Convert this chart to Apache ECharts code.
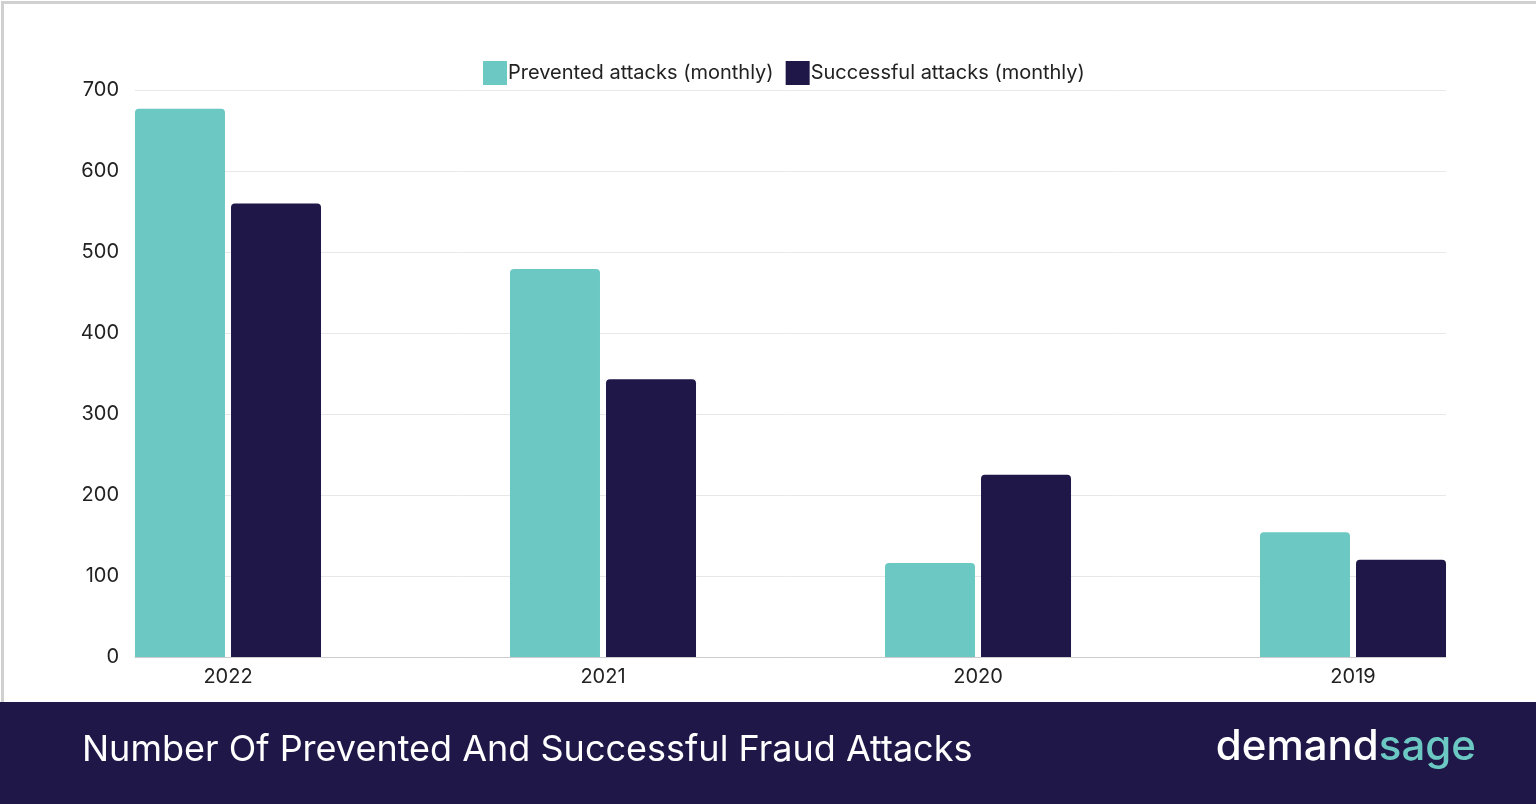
<!DOCTYPE html>
<html>
<head>
<meta charset="utf-8">
<script src="https://cdn.jsdelivr.net/npm/echarts@6/dist/echarts.min.js"></script>
<style>
html,body{margin:0;padding:0;background:#fff;}
#chart{width:1536px;height:804px;}
</style>
</head>
<body>
<div id="chart"></div>
<script>
const years = ['2022', '2021', '2020', '2019'];
const prevented = [677, 479, 116, 154];
const successful = [560, 343, 225, 120];
const yTicks = [0, 100, 200, 300, 400, 500, 600, 700];

const chart = echarts.init(document.getElementById('chart'));
const font = 'Inter, "Noto Sans", sans-serif';
chart.setOption({
    animation: false,
    backgroundColor: '#fff',
    textStyle: { fontFamily: font },
    legend: {
        top: 56, left: 478, itemWidth: 24, itemHeight: 24, itemGap: 12,
        icon: 'rect',
        textStyle: { fontSize: 20, color: '#222', fontFamily: font, padding: [0, 0, 0, -4] },
        data: ['Prevented attacks (monthly)', 'Successful attacks (monthly)']
    },
    grid: [
        { left: 135, width: 1311, top: 90, height: 567 },
        { left: 228, width: 1125, top: 90, height: 567 }
    ],
    xAxis: [
        { gridIndex: 0, type: 'category', data: years, axisLabel: { show: false },
          axisTick: { show: false }, axisLine: { lineStyle: { color: '#ccc' } } },
        { gridIndex: 1, type: 'category', data: years, boundaryGap: false, axisTick: { show: false },
          axisLine: { show: false },
          axisLabel: { fontSize: 20, color: '#222', margin: 10, fontFamily: font } }
    ],
    yAxis: [
        { gridIndex: 0, type: 'value', min: yTicks[0], max: yTicks[yTicks.length - 1], interval: 100,
          axisLabel: { fontSize: 20, color: '#222', margin: 16, fontFamily: font },
          splitLine: { lineStyle: { color: '#e8e8e8' } },
          axisLine: { show: false }, axisTick: { show: false } },
        { gridIndex: 1, type: 'value', min: 0, max: 700, show: false }
    ],
    series: [
        { name: 'Prevented attacks (monthly)', type: 'bar', xAxisIndex: 1, yAxisIndex: 1,
          data: prevented, barWidth: 90, barGap: '6.7%',
          itemStyle: { color: '#6cc8c3', borderRadius: [4, 4, 0, 0] } },
        { name: 'Successful attacks (monthly)', type: 'bar', xAxisIndex: 1, yAxisIndex: 1,
          data: successful, barWidth: 90, barGap: '6.7%',
          itemStyle: { color: '#1f1747', borderRadius: [4, 4, 0, 0] } }
    ],
    graphic: [
        { type: 'rect', left: 0, top: 0, shape: { width: 1536, height: 804 },
          style: { fill: 'none', stroke: '#d0d0d0', lineWidth: 3 }, silent: true },
        { type: 'rect', left: 0, top: 702, shape: { width: 1536, height: 102 },
          style: { fill: '#1f1747' } },
        { type: 'text', left: 82, top: 732,
          style: { text: 'Number Of Prevented And Successful Fraud Attacks', fill: '#fff',
                   fontSize: 36, fontFamily: font, letterSpacing: 0.8 } },
        { type: 'text', right: 60, top: 726,
          style: { rich: { a: { fill: '#fff', fontSize: 42, fontWeight: 500, fontFamily: font },
                           b: { fill: '#6cc8c3', fontSize: 42, fontWeight: 500, fontFamily: font } },
                   text: '{a|demand}{b|sage}' } }
    ]
});
</script>
</body>
</html>
